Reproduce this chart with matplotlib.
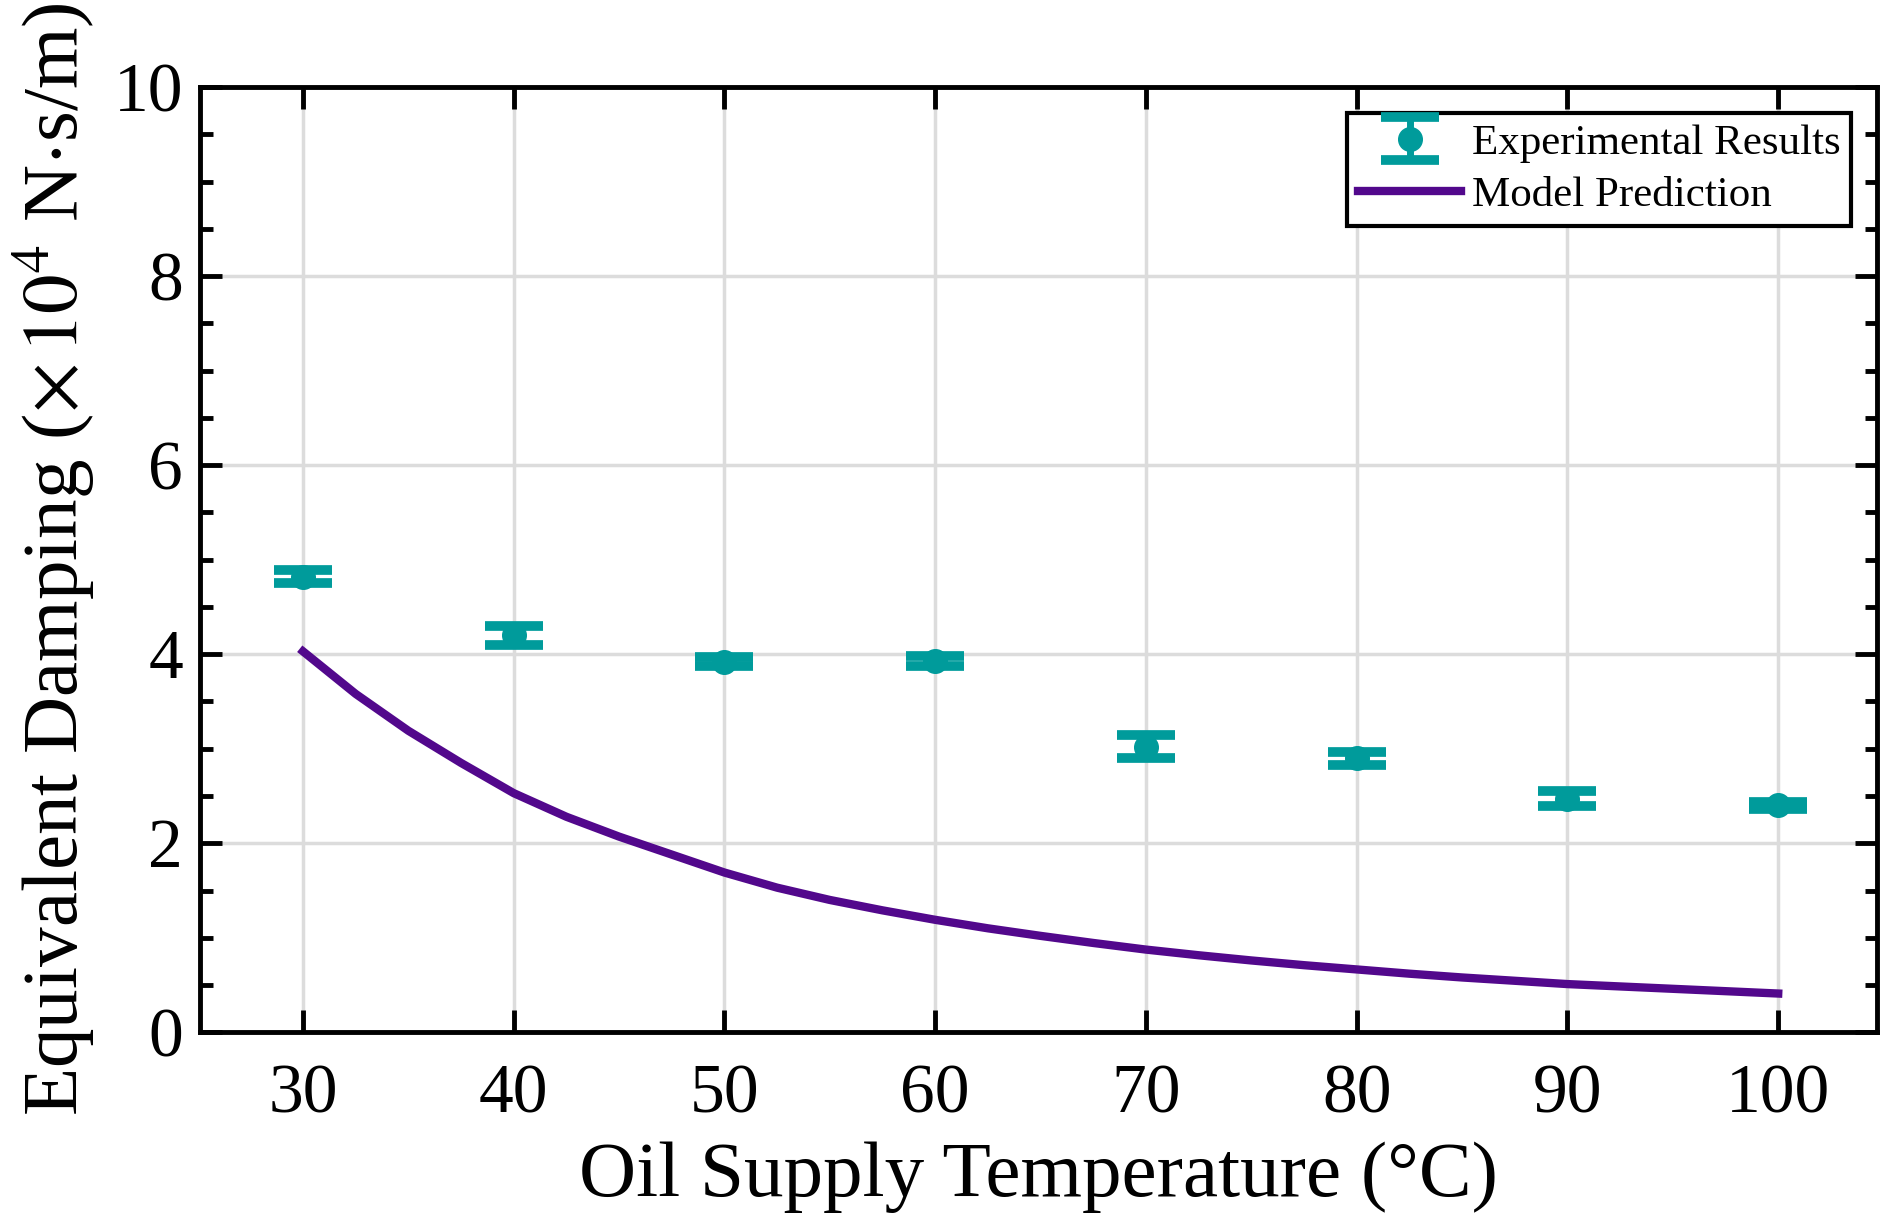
import matplotlib
matplotlib.use('Agg')
import matplotlib.pyplot as plt

plt.rcParams['font.family'] = ['Liberation Serif', 'DejaVu Serif']
plt.rcParams['mathtext.fontset'] = 'stix'

# experimental points
temps = [30, 40, 50, 60, 70, 80, 90, 100]
damping = [4.82, 4.20, 3.92, 3.93, 3.02, 2.90, 2.47, 2.40]
damping_err = [0.07, 0.10, 0.05, 0.05, 0.12, 0.07, 0.08, 0.04]

# model curve
model_t = [30, 32.5, 35, 37.5, 40, 42.5, 45, 47.5, 50, 52.5, 55, 57.5, 60,
           62.5, 65, 67.5, 70, 72.5, 75, 77.5, 80, 82.5, 85, 87.5, 90, 92.5, 95, 97.5, 100]
model_c = [4.03, 3.58, 3.19, 2.85, 2.53, 2.28, 2.07, 1.88, 1.69, 1.53, 1.40, 1.29, 1.19,
           1.10, 1.02, 0.945, 0.875, 0.815, 0.76, 0.71, 0.665, 0.62, 0.58, 0.545, 0.51, 0.485, 0.46, 0.435, 0.41]

teal = '#009b9b'
purple = '#52088c'

fig = plt.figure(figsize=(19.02, 12.26), dpi=100)
ax = fig.add_axes([0.105, 0.158, 0.882, 0.771])

ax.errorbar(temps, damping, yerr=damping_err, fmt='o', color=teal, ms=17,
            elinewidth=5, capsize=21, capthick=7, label='Experimental Results', zorder=3)
ax.plot(model_t, model_c, color=purple, lw=6, label='Model Prediction', zorder=2,
        solid_joinstyle='round')

ax.set_xlim(25.1, 104.7)
ax.set_ylim(0, 10)
ax.set_xticks(temps)
ax.set_yticks([0, 2, 4, 6, 8, 10])
ax.set_yticks([v / 2 for v in range(21)], minor=True)
ax.grid(True, color='#dcdcdc', lw=2.5)
ax.set_axisbelow(True)

ax.tick_params(which='both', direction='in', top=True, right=True, width=3.5,
               labelsize=50, pad=12)
ax.tick_params(axis='x', pad=23)
ax.tick_params(which='major', length=16)
ax.tick_params(which='minor', length=9)
for s in ax.spines.values():
    s.set_linewidth(3.5)

ax.set_xlabel('Oil Supply Temperature (°C)', fontsize=57, labelpad=10)
ax.set_ylabel('Equivalent Damping ($\\times\\,10^4$ N$\\cdot$s/m)', fontsize=57, labelpad=12)

h, l = ax.get_legend_handles_labels()
leg = ax.legend(h[::-1], l[::-1], loc='upper right', fontsize=31, frameon=True, fancybox=False,
                edgecolor='black', framealpha=1, borderaxespad=0.6,
                handlelength=2.4, handletextpad=0.25, borderpad=0.25, labelspacing=0.3)
leg.get_frame().set_linewidth(3)

fig.savefig('out.png', dpi=100)
